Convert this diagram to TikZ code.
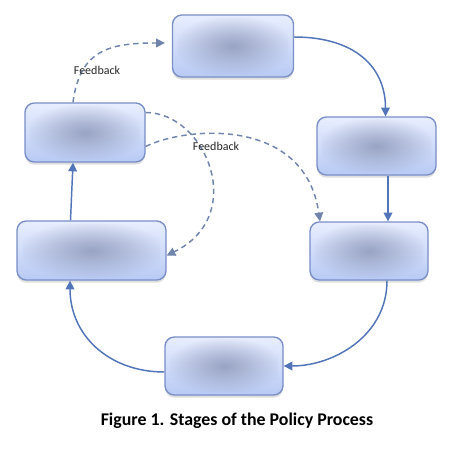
\documentclass[tikz,border=0pt]{standalone}
\usepackage{fontspec}
\setmainfont{Carlito}
\usetikzlibrary{arrows.meta,calc,shadows,fadings}

\definecolor{boxline}{RGB}{122,142,200}
\definecolor{boxtop}{RGB}{232,238,254}
\definecolor{boxbot}{RGB}{184,202,244}
\definecolor{blurcol}{RGB}{150,160,192}
\definecolor{flowcol}{RGB}{82,116,184}
\definecolor{fbcol}{RGB}{112,132,172}

\tikzfading[name=softblur, inner color=transparent!5, outer color=transparent!100]

\tikzset{every picture/.style={line width=0.75pt}}
\tikzset{
  stagebox/.style={draw=boxline, line width=1pt, rounded corners=7pt,
    top color=boxtop, bottom color=boxbot,
    drop shadow={shadow xshift=0pt, shadow yshift=-2pt, opacity=0.25},
    path picture={\fill[blurcol, path fading=softblur]
      ($(path picture bounding box.south west)!0.04!(path picture bounding box.north east)$) rectangle
      ($(path picture bounding box.south west)!0.96!(path picture bounding box.north east)$);}},
  flow/.style={draw=flowcol, line width=1.1pt, -{Triangle[length=6.5pt,width=6.5pt]}},
  feedback/.style={draw=fbcol, line width=1.1pt, dash pattern=on 4pt off 3pt,
    -{Triangle[length=6.5pt,width=6.5pt]}},
  fblabel/.style={font=\fontsize{9}{10}\selectfont, text=black!85},
}

\begin{document}
\begin{tikzpicture}[x=0.75pt,y=0.75pt,yscale=-1,xscale=1]
\useasboundingbox (0,0) rectangle (474,456);

%Shape: stage boxes
\node[stagebox, minimum width=90.75pt, minimum height=46.5pt] (topstage) at (233,46) {};
\node[stagebox, minimum width=89.25pt, minimum height=43.5pt] (agenda) at (376.5,146) {};
\node[stagebox, minimum width=88.5pt, minimum height=43.5pt] (policy) at (369,251) {};
\node[stagebox, minimum width=88.5pt, minimum height=43.5pt] (bottomstage) at (224,366) {};
\node[stagebox, minimum width=111.75pt, minimum height=44.25pt] (leftlower) at (91.5,250.5) {};
\node[stagebox, minimum width=90pt, minimum height=44.25pt] (leftupper) at (85,132.5) {};

%Shape: main cycle
\draw[flow] ($(topstage.east)+(0,-9)$) .. controls +(60,0) and +(0,-50) .. ($(agenda.north)+(9,0)$);
\draw[flow] ($(agenda.south)+(11.5,0)$) -- ($(policy.north)+(19,0)$);
\draw[flow] ($(policy.south)+(18,0)$) .. controls +(0,55) and +(50,0) .. (bottomstage.east);
\draw[flow] ($(bottomstage.west)+(0,6)$) .. controls +(-55,0) and +(0,55) .. ($(leftlower.south)+(-21.5,0)$);
\draw[flow] ($(leftlower.north)+(-21,0)$) -- ($(leftupper.south)+(-12,0)$);

%Shape: feedback loops
\draw[feedback] ($(leftupper.north)+(-12,0)$) .. controls +(7,-53) and +(-55,0) .. ($(topstage.west)+(-7,-3)$);
\draw[feedback] ($(leftupper.east)+(0,14)$) .. controls +(40,-20) and +(-15,-105) .. ($(policy.north)+(-49,0)$);
\draw[feedback] ($(leftupper.east)+(0,-20)$) .. controls +(60,0) and +(82,-40) .. ($(leftlower.east)+(0,5)$);

% Text Node
\node[fblabel] (fbtop) at (97,70) {Feedback};
% Text Node
\node[fblabel] (fbmid) at (216,146) {Feedback};
% Text Node
\node[font=\fontsize{13.4}{16}\selectfont\bfseries] (caption) at (237,421) {Figure 1. Stages of the Policy Process};

\end{tikzpicture}
\end{document}
